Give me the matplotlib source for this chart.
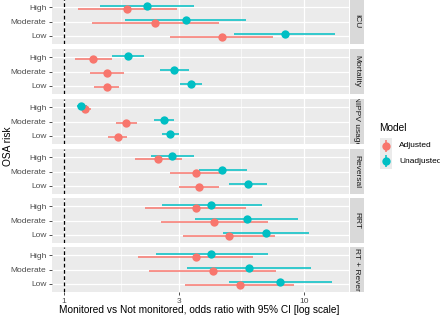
import numpy as np
import matplotlib
matplotlib.use("Agg")
import matplotlib.pyplot as plt

plt.rcParams["font.family"] = ["Liberation Sans", "DejaVu Sans"]

# data (order per panel: High, Moderate, Low)
outcomes = ["ICU", "Mortality", "NIPPV usage", "Reversal", "RRT", "RT + Reversal"]
risk = ["High", "Moderate", "Low"]
models = ["Adjusted", "Unadjusted"]

adj_or = [[1.83, 2.39, 4.55], [1.32, 1.51, 1.51], [1.22, 1.81, 1.68],
          [2.47, 3.55, 3.65], [3.55, 4.22, 4.87], [3.55, 4.18, 5.41]]
adj_lo = [[1.14, 1.31, 2.77], [1.11, 1.28, 1.33], [1.15, 1.65, 1.52],
          [1.98, 2.77, 3.01], [2.18, 2.54, 3.13], [2.03, 2.26, 3.19]]
adj_hi = [[2.96, 4.42, 7.43], [1.58, 1.78, 1.70], [1.29, 2.01, 1.83],
          [3.10, 4.55, 4.42], [5.73, 7.08, 7.57], [6.13, 7.64, 9.09]]

unadj_or = [[2.22, 3.22, 8.33], [1.85, 2.87, 3.38], [1.18, 2.61, 2.77],
            [2.82, 4.55, 5.84], [4.10, 5.78, 6.95], [4.10, 5.90, 7.94]]
unadj_lo = [[1.41, 1.80, 5.11], [1.59, 2.51, 3.04], [1.13, 2.37, 2.56],
            [2.30, 3.65, 4.87], [2.56, 3.51, 4.60], [2.42, 3.25, 4.87]]
unadj_hi = [[3.48, 5.73, 13.5], [2.15, 3.31, 3.76], [1.25, 2.87, 3.01],
            [3.48, 5.78, 7.00], [6.68, 9.44, 10.5], [7.08, 10.7, 13.1]]

x_ticks = [1, 3, 10]

colors = {"Adjusted": "#F8766D", "Unadjusted": "#00BFC4"}
offsets = {"Adjusted": -0.12, "Unadjusted": 0.12}
series = {"Adjusted": (adj_or, adj_lo, adj_hi),
          "Unadjusted": (unadj_or, unadj_lo, unadj_hi)}

W, H = 440, 316
fig = plt.figure(figsize=(W / 100, H / 100), dpi=100)


def px_axes(x0, y0, x1, y1):
    return fig.add_axes([x0 / W, 1 - y1 / H, (x1 - x0) / W, (y1 - y0) / H])


txt_col = "#4D4D4D"
panel_x0, panel_x1 = 52, 349
strip_x1 = 364
bottoms = [44, 94, 144, 194, 243, 292]
ph = 45
ypos = [3, 2, 1]

for i, name in enumerate(outcomes):
    y1 = bottoms[i]
    y0 = y1 - ph
    ax = px_axes(panel_x0, y0, panel_x1, y1)
    ax.set_facecolor("#EBEBEB")
    ax.set_xscale("log")
    ax.set_xlim(0.891, 15.4)
    ax.set_ylim(0.4, 3.6)
    for s in ax.spines.values():
        s.set_visible(False)

    # grid lines
    for xv in x_ticks:
        ax.axvline(xv, color="white", lw=0.9, zorder=0)
    for xv in [np.sqrt(3), np.sqrt(30)]:
        ax.axvline(xv, color="white", lw=0.45, zorder=0)
    for yv in ypos:
        ax.axhline(yv, color="white", lw=0.9, zorder=0)

    ax.axvline(1, color="black", lw=0.9, ls=(0, (3, 2)), zorder=1)

    for m in models:
        orv, lo, hi = series[m]
        yy = np.array(ypos) + offsets[m]
        ax.hlines(yy, lo[i], hi[i], color=colors[m], lw=1.1, zorder=2)
        ax.plot(orv[i], yy, "o", color=colors[m], ms=6, mew=0, zorder=3)

    ax.set_yticks(ypos)
    ax.set_yticklabels(risk)
    ax.tick_params(axis="y", length=2.5, width=0.6, color="#333333",
                   labelsize=6, labelcolor=txt_col, pad=1.5)
    ax.set_xticks(x_ticks)
    ax.xaxis.set_minor_locator(matplotlib.ticker.NullLocator())
    if i == len(outcomes) - 1:
        ax.set_xticklabels([str(v) for v in x_ticks])
        ax.tick_params(axis="x", length=2.5, width=0.6, color="#333333",
                       labelsize=6, labelcolor=txt_col, pad=1.5)
    else:
        ax.tick_params(axis="x", length=0, labelbottom=False)

    # facet strip (long last label runs off the bottom, as in the original)
    sax = px_axes(panel_x1 + 0.5, y0, strip_x1, y1)
    sax.set_facecolor("#D9D9D9")
    sax.set_xticks([])
    sax.set_yticks([])
    for s in sax.spines.values():
        s.set_visible(False)
    if i == len(outcomes) - 1:
        sax.text(0.5, 0.97, name, rotation=-90, ha="center", va="top",
                 fontsize=6, color="#1A1A1A", transform=sax.transAxes, clip_on=True)
    else:
        sax.text(0.5, 0.5, name, rotation=-90, ha="center", va="center",
                 fontsize=6, color="#1A1A1A", transform=sax.transAxes, clip_on=True)

fig.text(199 / W, 1 - 310 / H, "Monitored vs Not monitored, odds ratio with 95% CI [log scale]",
         ha="center", va="center", fontsize=7.3, color="black")
fig.text(8 / W, 1 - 146 / H, "OSA risk", rotation=90, ha="center", va="center",
         fontsize=7.3, color="black")

# legend
fig.text(379 / W, 1 - 128 / H, "Model", ha="left", va="center", fontsize=7.3)
for k, m in enumerate(models):
    ky0 = 138 + k * 15.5
    kax = px_axes(380, ky0, 392, ky0 + 15)
    kax.set_facecolor("#EBEBEB")
    kax.set_xlim(0, 1)
    kax.set_ylim(0, 1)
    kax.set_xticks([])
    kax.set_yticks([])
    for s in kax.spines.values():
        s.set_visible(False)
    kax.vlines(0.5, 0.1, 0.9, color=colors[m], lw=1.1)
    kax.plot(0.5, 0.5, "o", color=colors[m], ms=6, mew=0)
    fig.text(399 / W, 1 - (ky0 + 7.5) / H, m, ha="left", va="center", fontsize=6)

fig.savefig("out.png", dpi=100, facecolor="white")
